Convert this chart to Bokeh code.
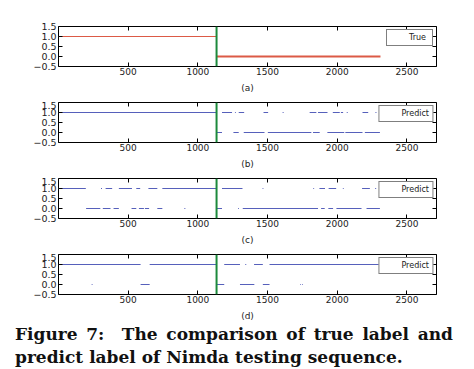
from bokeh.plotting import figure
from bokeh.layouts import column
from bokeh.models import (Range1d, FixedTicker, Span, Legend, LegendItem, Div,
                          LinearAxis)
from bokeh.embed import file_html
from bokeh.resources import INLINE

# ---------------- data ----------------
SPLIT_INDEX = 1134
X_MAX = 2712
X_TICKS = [500, 1000, 1500, 2000, 2500]
Y_TICKS = [-0.5, 0.0, 0.5, 1.0, 1.5]
Y_TICK_LABELS = ["\u22120.5", "0.0", "0.5", "1.0", "1.5"]

# (a) true label runs
TRUE_START = [0, 1134]
TRUE_END = [1134, 2310]
TRUE_VALUE = [1, 0]

# (b) predicted label runs
B_ONE_START = [0, 1173, 1266, 1293, 1471, 1608, 1802, 1862, 1968, 2026, 2068, 2181, 2274]
B_ONE_END = [1134, 1245, 1272, 1332, 1504, 1615, 1850, 1930, 2018, 2042, 2075, 2222, 2281]
B_ZERO_START = [1134, 1255, 1329, 1502, 1826, 1929, 2058, 2198]
B_ZERO_END = [1173, 1293, 1478, 1814, 1874, 2050, 2181, 2306]

# (c) predicted label runs
C_ONE_START = [0, 305, 338, 433, 558, 645, 745, 1173, 1464, 1828, 1872, 1938, 2040, 2178, 2272]
C_ONE_END = [196, 312, 385, 527, 586, 709, 1134, 1320, 1470, 1834, 1912, 1992, 2046, 2234, 2279]
C_ZERO_START = [198, 318, 395, 524, 577, 620, 709, 903, 1134, 1288, 1322, 1884, 1936, 1994, 2210]
C_ZERO_END = [300, 373, 433, 558, 613, 650, 745, 910, 1173, 1294, 1862, 1910, 1970, 2174, 2306]

# (d) predicted label runs
D_ONE_START = [0, 654, 1189, 1340, 1403, 1514]
D_ONE_END = [589, 1134, 1302, 1347, 1466, 2306]
D_ZERO_START = [238, 589, 1134, 1302, 1466, 1735, 1748]
D_ZERO_END = [244, 654, 1189, 1405, 1514, 1740, 1753]

RED = "#dc5a46"
BLUE = "#5660bb"
GREEN = "#1c8a3c"
FONT = "DejaVu Sans"


def tick_only_axis(ticks):
    ax = LinearAxis(ticker=FixedTicker(ticks=ticks),
                    major_label_overrides={t: "" for t in ticks},
                    major_label_text_font_size="0px", major_label_standoff=0,
                    major_tick_in=4, major_tick_out=0, axis_line_color=None,
                    minor_tick_line_color=None, major_tick_line_color="black")
    return ax


def make_panel(tag, legend_label, runs, color, top_border, bottom_border):
    p = figure(frame_width=378, frame_height=40,
               min_border_left=58, min_border_right=28,
               min_border_top=top_border, min_border_bottom=bottom_border,
               x_range=Range1d(0, X_MAX), y_range=Range1d(-0.5, 1.5),
               output_backend="svg", toolbar_location=None)
    p.grid.visible = False
    p.outline_line_color = "black"
    p.outline_line_width = 1
    p.background_fill_color = "white"
    p.border_fill_color = "white"

    for (starts, ends, val, width) in runs:
        p.segment(x0=starts, y0=[val] * len(starts), x1=ends, y1=[val] * len(starts),
                  line_color=color, line_width=width, line_cap="butt")

    p.add_layout(Span(location=SPLIT_INDEX, dimension="height",
                      line_color=GREEN, line_width=2))

    dummy = p.line(x=[], y=[], line_color=color, line_width=1.5,
                   line_dash="1 4", line_alpha=0.7)
    legend = Legend(items=[LegendItem(label=legend_label, renderers=[dummy])],
                    location="top_right", margin=3, padding=3, spacing=0,
                    glyph_width=14, glyph_height=8, label_height=8,
                    label_standoff=5, label_text_font_size="8px",
                    label_text_font=FONT, label_text_color="#222222",
                    border_line_color="black", border_line_width=1,
                    background_fill_color="white", background_fill_alpha=1)
    p.add_layout(legend)

    p.xaxis.ticker = FixedTicker(ticks=X_TICKS)
    p.yaxis.ticker = FixedTicker(ticks=Y_TICKS)
    p.yaxis.major_label_overrides = {t: l for t, l in zip(Y_TICKS, Y_TICK_LABELS)}
    for ax in (p.xaxis[0], p.yaxis[0]):
        ax.axis_line_color = None
        ax.major_tick_in = 4
        ax.major_tick_out = 0
        ax.minor_tick_line_color = None
        ax.major_tick_line_color = "black"
        ax.major_label_text_font = FONT
        ax.major_label_text_color = "#222222"
    p.xaxis.major_label_text_font_size = "9px"
    p.yaxis.major_label_text_font_size = "9.5px"
    p.xaxis.major_label_standoff = 1
    p.yaxis.major_label_standoff = 2
    p.xaxis.axis_label = tag
    p.xaxis.axis_label_text_font = FONT
    p.xaxis.axis_label_text_font_size = "9px"
    p.xaxis.axis_label_text_font_style = "normal"
    p.xaxis.axis_label_text_color = "#222222"
    p.xaxis.axis_label_standoff = 5

    p.add_layout(tick_only_axis(X_TICKS), "above")
    p.add_layout(tick_only_axis(Y_TICKS), "right")
    return p


pa = make_panel("(a)", "True",
                [([TRUE_START[0]], [TRUE_END[0]], TRUE_VALUE[0], 1.2),
                 ([TRUE_START[1]], [TRUE_END[1]], TRUE_VALUE[1], 2.0)], RED, 26, 35)
pb = make_panel("(b)", "Predict",
                [(B_ONE_START, B_ONE_END, 1, 1.2), (B_ZERO_START, B_ZERO_END, 0, 1.2)],
                BLUE, 1, 35)
pc = make_panel("(c)", "Predict",
                [(C_ONE_START, C_ONE_END, 1, 1.2), (C_ZERO_START, C_ZERO_END, 0, 1.2)],
                BLUE, 1, 35)
pd_ = make_panel("(d)", "Predict",
                 [(D_ONE_START, D_ONE_END, 1, 1.2), (D_ZERO_START, D_ZERO_END, 0, 1.2)],
                 BLUE, 1, 26)

caption = Div(text=(
    "<div style=\"font-family:'DejaVu Serif';font-weight:bold;font-size:17px;"
    "line-height:23px;width:453px;padding-left:15px;color:#111;\">"
    "<div style=\"text-align:justify;text-align-last:justify;white-space:nowrap;\">"
    "Figure 7:&nbsp; The comparison of true label and</div>"
    "<div>predict label of Nimda testing sequence.</div></div>"),
    width=470, height=48, margin=(0, 0, 0, 0))

layout = column(pa, pb, pc, pd_, caption, spacing=0)

open("out.html", "w").write(file_html(layout, INLINE))
